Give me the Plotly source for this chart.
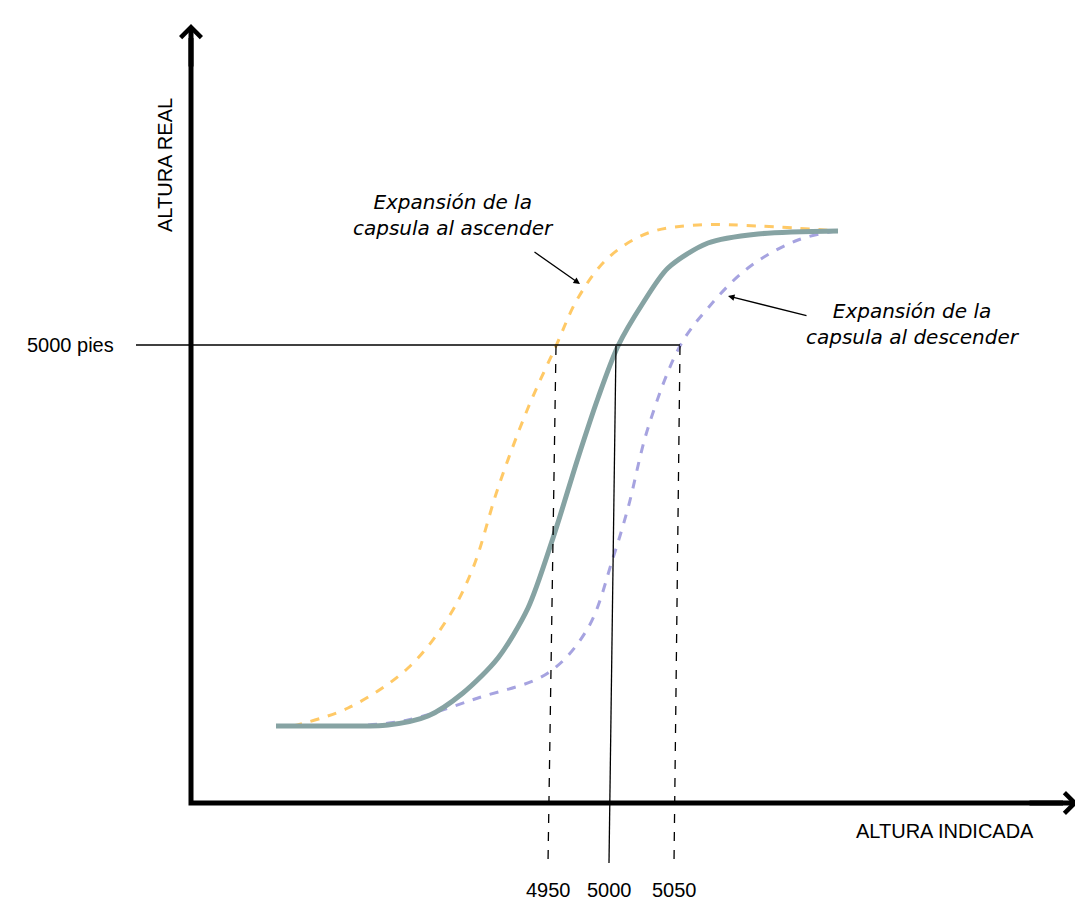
import plotly.graph_objects as go

# schematic in canvas units (x right, y down)
gray_x = [268, 320, 380, 420, 455, 490, 520, 545, 570, 590, 610, 635, 660, 700, 750, 830]
gray_y = [718, 718, 717, 708, 685, 650, 600, 530, 450, 390, 338, 295, 260, 235, 226, 223]
asc_x = [285, 340, 400, 440, 465, 490, 520, 548, 570, 600, 640, 690, 750, 830]
asc_y = [718, 700, 660, 610, 560, 480, 400, 338, 290, 250, 225, 217, 218, 223]
desc_x = [360, 400, 470, 540, 580, 605, 620, 640, 672, 700, 740, 790, 835]
desc_y = [717, 712, 690, 665, 620, 550, 500, 420, 338, 300, 260, 232, 222]
tick_labels = ["4950", "5000", "5050"]
tick_top_x = [548, 608, 672]
tick_bot_x = [540, 601, 666]

fig = go.Figure()
fig.add_trace(go.Scatter(x=asc_x, y=asc_y, mode="lines", line=dict(color="#FFC966", width=3, dash="dash", shape="spline")))
fig.add_trace(go.Scatter(x=desc_x, y=desc_y, mode="lines", line=dict(color="#A6A3E0", width=3, dash="dash", shape="spline")))
fig.add_trace(go.Scatter(x=gray_x, y=gray_y, mode="lines", line=dict(color="#86A3A3", width=5, shape="spline", smoothing=0.8)))

# reference lines
fig.add_trace(go.Scatter(x=[128, 672], y=[337, 337], mode="lines", line=dict(color="black", width=1.3)))
for i, lab in enumerate(tick_labels):
    fig.add_trace(go.Scatter(x=[tick_top_x[i], tick_bot_x[i]], y=[338, 855], mode="lines",
                             line=dict(color="black", width=1.3, dash="solid" if lab == "5000" else "dash")))
    fig.add_annotation(x=tick_bot_x[i], y=882, text=lab, showarrow=False, font=dict(size=20))

# axes
fig.add_trace(go.Scatter(x=[183, 183, 1055], y=[30, 795, 795], mode="lines", line=dict(color="black", width=5)))
for (x, y, ax, ay) in [(183, 16, 183, 60), (1070, 795, 1020, 795)]:
    fig.add_annotation(x=x, y=y, ax=ax, ay=ay, xref="x", yref="y", axref="x", ayref="y", text="",
                       showarrow=True, arrowhead=4, arrowsize=0.8, arrowwidth=5, arrowcolor="black")

fig.add_annotation(x=62, y=337, text="5000 pies", showarrow=False, font=dict(size=20))
fig.add_annotation(x=937, y=823, text="ALTURA INDICADA", showarrow=False, font=dict(size=20))
fig.add_annotation(x=157, y=157, text="ALTURA REAL", showarrow=False, textangle=-90, font=dict(size=20))

hand = dict(size=20, family="DejaVu Sans", style="italic")
fig.add_annotation(x=445, y=207, text="Expansión de la<br>capsula al ascender", showarrow=False, font=hand)
fig.add_annotation(x=905, y=316, text="Expansión de la<br>capsula al descender", showarrow=False, font=hand)
fig.add_annotation(x=572, y=276, ax=525, ay=243, xref="x", yref="y", axref="x", ayref="y", text="",
                   showarrow=True, arrowhead=2, arrowwidth=1.3, arrowcolor="black")
fig.add_annotation(x=720, y=288, ax=800, ay=308, xref="x", yref="y", axref="x", ayref="y", text="",
                   showarrow=True, arrowhead=2, arrowwidth=1.3, arrowcolor="black")

fig.update_layout(width=1083, height=902, margin=dict(l=0, r=0, t=0, b=0), showlegend=False,
                  plot_bgcolor="white", paper_bgcolor="white",
                  font=dict(family="Arial, Liberation Sans", color="black"),
                  xaxis=dict(range=[0, 1083], visible=False),
                  yaxis=dict(range=[902, 0], visible=False))
fig.write_html("out.html")
